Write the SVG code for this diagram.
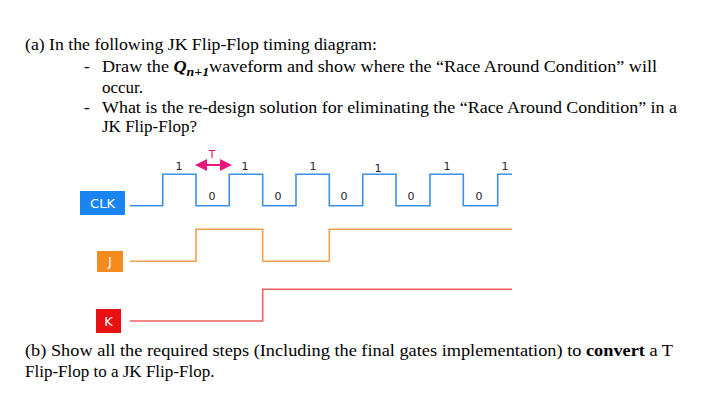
<svg xmlns="http://www.w3.org/2000/svg" width="701" height="413" viewBox="0 0 701 413">
<style>
.t{font-family:"Liberation Serif",serif;font-size:17px;fill:#000}
.s{font-family:"DejaVu Sans",sans-serif;font-size:11px;fill:#222;text-anchor:middle}
.lb{font-family:"DejaVu Sans",sans-serif;font-size:13px;fill:#fff;text-anchor:middle}
.w{fill:none;stroke-width:1.6}
</style>
<defs><marker id="ah" markerWidth="6" markerHeight="6" refX="5" refY="3" orient="auto-start-reverse"><path d="M0,0 L6,3 L0,6 Z" fill="#e8177a"/></marker></defs>
<rect width="701" height="413" fill="#fff"/>
<g id="text">
<text class="t" x="25" y="50" textLength="352" lengthAdjust="spacingAndGlyphs">(a) In the following JK Flip-Flop timing diagram:</text>
<text class="t" x="84" y="72">-</text>
<text class="t" x="102" y="72" textLength="555" lengthAdjust="spacingAndGlyphs">Draw the <tspan font-weight="bold" font-style="italic">Q</tspan><tspan font-weight="bold" font-style="italic" font-size="13" dy="4">n+1</tspan><tspan dy="-4">waveform and show where the “Race Around Condition” will</tspan></text>
<text class="t" x="102" y="93">occur.</text>
<text class="t" x="84" y="113">-</text>
<text class="t" x="102" y="113" textLength="575" lengthAdjust="spacingAndGlyphs">What is the re-design solution for eliminating the “Race Around Condition” in a</text>
<text class="t" x="102" y="132">JK Flip-Flop?</text>
<text class="t" x="25" y="356" textLength="648" lengthAdjust="spacingAndGlyphs">(b) Show all the required steps (Including the final gates implementation) to <tspan font-weight="bold">convert</tspan> a T</text>
<text class="t" x="25" y="377">Flip-Flop to a JK Flip-Flop.</text>
</g>
<g id="clk">
<rect x="80" y="191" width="45" height="24" fill="#1a85f0"/>
<text class="lb" x="102.5" y="208">CLK</text>
<polyline class="w" stroke="#3b8fe8" points="130,205.7 162.7,205.7 162.7,174.3 196,174.3 196,205.7 229.3,205.7 229.3,174.3 262.7,174.3 262.7,205.7 296,205.7 296,174.3 329.3,174.3 329.3,205.7 362.7,205.7 362.7,174.3 396,174.3 396,205.7 430,205.7 430,174.3 463.3,174.3 463.3,205.7 497.7,205.7 497.7,174.3 512,174.3"/>
<text class="s" x="179" y="170">1</text><text class="s" x="245" y="170">1</text><text class="s" x="313" y="170">1</text><text class="s" x="378" y="172">1</text><text class="s" x="447" y="170">1</text><text class="s" x="505" y="170">1</text>
<text class="s" x="212" y="200">0</text><text class="s" x="278" y="200">0</text><text class="s" x="344" y="200">0</text><text class="s" x="411" y="200">0</text><text class="s" x="479" y="200">0</text>
<line x1="197" y1="165" x2="230" y2="165" stroke="#e8177a" stroke-width="2" marker-start="url(#ah)" marker-end="url(#ah)"/>
<text x="212" y="158" font-family="DejaVu Sans,sans-serif" font-size="11" fill="#e8177a" text-anchor="middle">T</text>
</g>
<g id="j">
<rect x="97" y="251" width="26" height="21" fill="#f58a1f"/>
<text class="lb" x="110" y="266">J</text>
<polyline class="w" stroke="#f5a04a" points="130,261.3 196,261.3 196,229.3 262.7,229.3 262.7,261.3 329.3,261.3 329.3,229.3 512,229.3"/>
</g>
<g id="k">
<rect x="96" y="309" width="25" height="24" fill="#e81010"/>
<text class="lb" x="108.5" y="326">K</text>
<polyline class="w" stroke="#f06060" points="130,321 262.7,321 262.7,289.3 512,289.3"/>
</g>
</svg>
